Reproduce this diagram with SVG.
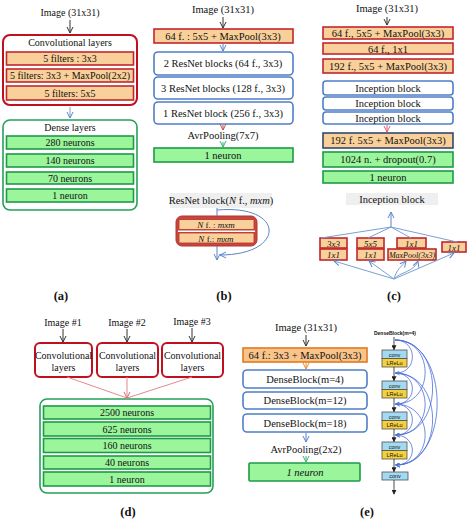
<svg xmlns="http://www.w3.org/2000/svg" width="474" height="531" viewBox="0 0 474 531">
<defs>
<style>
text{font-family:"Liberation Serif","Times New Roman",serif;fill:#111;text-anchor:middle}
.t10{font-size:10px}
.t105{font-size:10.5px}
.it{font-style:italic}
.lab{font-size:12.5px;font-weight:bold}
.or{fill:#FAD09A;stroke:#C1272D;stroke-width:1.6}
.gr{fill:#9BF59B;stroke:#1E9A48;stroke-width:1.6}
.bl{fill:#fff;stroke:#4F7EC8;stroke-width:1.6}
.rbox{fill:#fff;stroke:#C0101E;stroke-width:2}
.gbox{fill:#fff;stroke:#24A05A;stroke-width:1.6}
.gray{fill:#EFEFEF}
.sans{font-family:"Liberation Sans",Arial,sans-serif}
.conv{fill:#A3DAF2;stroke:#505050;stroke-width:0.8}
.lrelu{fill:#F4D03F;stroke:#505050;stroke-width:0.8}
.c{fill:none;stroke-width:1}
</style>
<marker id="ak" viewBox="0 0 8 8" refX="7" refY="4" markerWidth="8" markerHeight="8" markerUnits="userSpaceOnUse" orient="auto"><path d="M1,1 L7,4 L1,7" fill="none" stroke="#333" stroke-width="1"/></marker>
<marker id="ab" viewBox="0 0 8 8" refX="7" refY="4" markerWidth="8" markerHeight="8" markerUnits="userSpaceOnUse" orient="auto"><path d="M1,1 L7,4 L1,7" fill="none" stroke="#5B84C8" stroke-width="1"/></marker>
<marker id="ar" viewBox="0 0 8 8" refX="7" refY="4" markerWidth="8" markerHeight="8" markerUnits="userSpaceOnUse" orient="auto"><path d="M1,1 L7,4 L1,7" fill="none" stroke="#C0504D" stroke-width="1"/></marker>
<marker id="ag" viewBox="0 0 8 8" refX="7" refY="4" markerWidth="8" markerHeight="8" markerUnits="userSpaceOnUse" orient="auto"><path d="M1,1 L7,4 L1,7" fill="none" stroke="#3CB371" stroke-width="1"/></marker>
<marker id="ap" viewBox="0 0 8 8" refX="7" refY="4" markerWidth="8" markerHeight="8" markerUnits="userSpaceOnUse" orient="auto"><path d="M1,1 L7,4 L1,7" fill="none" stroke="#E0607A" stroke-width="1"/></marker>
<marker id="ao" viewBox="0 0 8 8" refX="7" refY="4" markerWidth="8" markerHeight="8" markerUnits="userSpaceOnUse" orient="auto"><path d="M1,1 L7,4 L1,7" fill="none" stroke="#E88A2E" stroke-width="1"/></marker>
<marker id="ad" viewBox="0 0 6 6" refX="5" refY="3" markerWidth="5" markerHeight="5" markerUnits="userSpaceOnUse" orient="auto"><path d="M0,0 L6,3 L0,6 Z" fill="#222"/></marker>
<marker id="as" viewBox="0 0 6 6" refX="5" refY="3" markerWidth="5" markerHeight="5" markerUnits="userSpaceOnUse" orient="auto"><path d="M0.5,0.5 L5.5,3 L0.5,5.5" fill="none" stroke="#4A6FD8" stroke-width="0.8"/></marker>
</defs>
<rect width="474" height="531" fill="#fff"/>

<!-- Panel (a) -->
<g id="a-input"><text class="t10" x="70" y="16">Image (31x31)</text></g>
<g id="a-conv">
<rect class="rbox" x="3" y="35" width="134" height="70" rx="7"/>
<text class="t10" x="70" y="46">Convolutional layers</text>
<rect class="or" x="6.5" y="52" width="127" height="13"/><text class="t10" x="70" y="62">5 filters : 3x3</text>
<rect class="or" x="6.5" y="69" width="127" height="13"/><text class="t10" x="70" y="79" font-size="10.3">5 filters: 3x3 + MaxPool(2x2)</text>
<rect class="or" x="6.5" y="86" width="127" height="14"/><text class="t10" x="70" y="96.5">5 filters: 5x5</text>
</g>
<g id="a-dense">
<rect class="gbox" x="3" y="120" width="134" height="90" rx="7"/>
<text class="t10" x="70" y="131">Dense layers</text>
<rect class="gr" x="6.5" y="136" width="127" height="13"/><text class="t10" x="70" y="146">280 neurons</text>
<rect class="gr" x="6.5" y="154" width="127" height="13"/><text class="t10" x="70" y="164">140 neurons</text>
<rect class="gr" x="6.5" y="172" width="127" height="12"/><text class="t10" x="70" y="181.5">70 neurons</text>
<rect class="gr" x="6.5" y="189" width="127" height="13"/><text class="t10" x="70" y="199">1 neuron</text>
</g>
<g id="a-label"><text class="lab" x="61" y="300">(a)</text></g>

<!-- Panel (b) -->
<g id="b-input"><text class="t105" x="223" y="13">Image (31x31)</text></g>
<g id="b-stem"><rect class="or" x="154" y="29" width="139" height="14"/><text class="t105" x="223" y="40">64 f. : 5x5 + MaxPool(3x3)</text></g>
<g id="b-res1"><rect class="bl" x="154" y="52" width="139" height="23" rx="4"/><text class="t105" x="223" y="67">2 ResNet blocks (64 f., 3x3)</text></g>
<g id="b-res2"><rect class="bl" x="154" y="77" width="139" height="22" rx="4"/><text class="t105" x="223" y="91.5">3 ResNet blocks (128 f., 3x3)</text></g>
<g id="b-res3"><rect class="bl" x="154" y="102" width="139" height="22" rx="4"/><text class="t105" x="223" y="116.5">1 ResNet block (256 f., 3x3)</text></g>
<g id="b-pool"><text class="t105" x="223" y="139">AvrPooling(7x7)</text></g>
<g id="b-out"><rect class="gr" x="154" y="148" width="139" height="14"/><text class="t105" x="223" y="159">1 neuron</text></g>
<g id="b-resblock">
<rect class="gray" x="170" y="193" width="102" height="15"/>
<text class="t105" x="221" y="204">ResNet block(<tspan class="it">N</tspan> f., <tspan class="it">mxm</tspan>)</text>
<rect x="176" y="216" width="81" height="30" rx="6" fill="#C9463F" stroke="#B23530" stroke-width="1"/>
<rect x="179" y="219.5" width="75" height="10" fill="#FAD09A" stroke="#B23530" stroke-width="0.8"/>
<line x1="178" y1="231.3" x2="255" y2="231.3" stroke="#fff" stroke-width="1.4"/>
<rect x="179" y="233" width="75" height="10" fill="#FAD09A" stroke="#B23530" stroke-width="0.8"/>
<text x="216" y="228" font-size="9"><tspan class="it">N</tspan> f. : <tspan class="it">mxm</tspan></text>
<text x="216" y="241.5" font-size="9"><tspan class="it">N</tspan> f.: <tspan class="it">mxm</tspan></text>
</g>
<g id="b-label"><text class="lab" x="224" y="300">(b)</text></g>

<!-- Panel (c) -->
<g id="c-input"><text class="t105" x="387" y="12">Image (31x31)</text></g>
<g id="c-l1"><rect class="or" x="323" y="27" width="130" height="12"/><text class="t105" x="388" y="37">64 f., 5x5 + MaxPool(3x3)</text></g>
<g id="c-l2"><rect class="or" x="323" y="43" width="130" height="11"/><text class="t105" x="388" y="52.5">64 f., 1x1</text></g>
<g id="c-l3"><rect class="or" x="323" y="59" width="130" height="14"/><text class="t105" x="388" y="70">192 f., 5x5 + MaxPool(3x3)</text></g>
<g id="c-inc1"><rect class="bl" x="323" y="81" width="130" height="14" rx="3"/><text class="t105" x="388" y="91.5">Inception block</text></g>
<g id="c-inc2"><rect class="bl" x="323" y="97" width="130" height="13" rx="3"/><text class="t105" x="388" y="107">Inception block</text></g>
<g id="c-inc3"><rect class="bl" x="323" y="112" width="130" height="12" rx="3"/><text class="t105" x="388" y="121.5">Inception block</text></g>
<g id="c-l4"><rect x="323" y="133" width="130" height="15" fill="#FAD09A" stroke="#34486E" stroke-width="1.6"/><text class="t105" x="388" y="144">192 f. 5x5 + MaxPool(3x3)</text></g>
<g id="c-fc"><rect class="gr" x="323" y="152" width="130" height="15"/><text class="t105" x="388" y="163">1024 n. + dropout(0.7)</text></g>
<g id="c-out"><rect class="gr" x="323" y="171" width="130" height="12"/><text class="t105" x="388" y="181">1 neuron</text></g>
<g id="c-incblock">
<rect class="gray" x="346" y="193" width="92" height="12"/>
<text class="t105" x="392" y="203">Inception block</text>
<rect class="or" x="320" y="238" width="27" height="10" stroke-width="1.2"/><text class="it" x="333.5" y="246.5" font-size="9">3x3</text>
<rect class="or" x="320" y="249" width="27" height="11" stroke-width="1.2"/><text class="it" x="333.5" y="258" font-size="9">1x1</text>
<rect class="or" x="357" y="238" width="27" height="10" stroke-width="1.2"/><text class="it" x="370.5" y="246.5" font-size="9">5x5</text>
<rect class="or" x="357" y="249" width="27" height="11" stroke-width="1.2"/><text class="it" x="370.5" y="258" font-size="9">1x1</text>
<rect class="or" x="397" y="238" width="29" height="10" stroke-width="1.2"/><text class="it" x="411.5" y="246.5" font-size="9">1x1</text>
<rect class="or" x="388" y="249" width="48" height="11" stroke-width="1.2"/><text class="it" x="412" y="257.5" font-size="8">MaxPool(3x3)</text>
<rect class="or" x="442" y="242" width="24" height="10" stroke-width="1.2"/><text class="it" x="454" y="250.5" font-size="9">1x1</text>
</g>
<g id="c-label"><text class="lab" x="394" y="300">(c)</text></g>

<!-- Panel (d) -->
<g id="d-in1"><text class="t10" x="63" y="326">Image #1</text></g>
<g id="d-in2"><text class="t10" x="127" y="326">Image #2</text></g>
<g id="d-in3"><text class="t10" x="192" y="325">Image #3</text></g>
<g id="d-conv1"><rect class="rbox" x="35" y="343" width="57" height="34" rx="5"/><text class="t10" x="63.5" y="359">Convolutional</text><text class="t10" x="63.5" y="371">layers</text></g>
<g id="d-conv2"><rect class="rbox" x="97" y="343" width="61" height="34" rx="5"/><text class="t10" x="127.5" y="359">Convolutional</text><text class="t10" x="127.5" y="371">layers</text></g>
<g id="d-conv3"><rect class="rbox" x="162" y="343" width="61" height="34" rx="5"/><text class="t10" x="192.5" y="359">Convolutional</text><text class="t10" x="192.5" y="371">layers</text></g>
<g id="d-dense">
<rect class="gbox" x="40" y="399" width="173" height="94" rx="7"/>
<rect class="gr" x="43.5" y="406" width="167" height="13"/><text class="t10" x="127" y="416">2500 neurons</text>
<rect class="gr" x="43.5" y="422" width="167" height="14"/><text class="t10" x="127" y="432.5">625 neurons</text>
<rect class="gr" x="43.5" y="438.5" width="167" height="14"/><text class="t10" x="127" y="449">160 neurons</text>
<rect class="gr" x="43.5" y="456" width="167" height="13"/><text class="t10" x="127" y="466">40 neurons</text>
<rect class="gr" x="43.5" y="472" width="167" height="14"/><text class="t10" x="127" y="482.5">1 neuron</text>
</g>
<g id="d-label"><text class="lab" x="128" y="516">(d)</text></g>

<!-- Panel (e) -->
<g id="e-input"><text class="t105" x="306" y="331">Image (31x31)</text></g>
<g id="e-stem"><rect x="243" y="348" width="124" height="14" fill="#F9C48A" stroke="#E07B20" stroke-width="1.6"/><text class="t105" x="305" y="359">64 f.: 3x3 + MaxPool(3x3)</text></g>
<g id="e-db1"><rect class="bl" x="243" y="370" width="124" height="18" rx="4"/><text class="t105" x="305" y="382.5">DenseBlock(m=4)</text></g>
<g id="e-db2"><rect class="bl" x="243" y="392" width="124" height="17" rx="4"/><text class="t105" x="305" y="404">DenseBlock(m=12)</text></g>
<g id="e-db3"><rect class="bl" x="243" y="414" width="124" height="18" rx="4"/><text class="t105" x="305" y="426.5">DenseBlock(m=18)</text></g>
<g id="e-pool"><text class="t105" x="306" y="453">AvrPooling(2x2)</text></g>
<g id="e-out"><rect class="gr" x="249" y="463" width="111" height="18" rx="1"/><text class="t105 it" x="305" y="475.5">1 neuron</text></g>
<g id="e-label"><text class="lab" x="367" y="516">(e)</text></g>

<!-- DenseBlock detail -->
<g id="db-detail">
<text class="sans" x="395" y="335" font-size="5" font-weight="bold">DenseBlock(m=4)</text>
<rect class="conv" x="382" y="350" width="25" height="8.5"/><text class="sans" x="394.5" y="356.5" font-size="5.5">conv</text>
<rect class="lrelu" x="382" y="358.5" width="25" height="8.5"/><text class="sans" x="394.5" y="365" font-size="5.5">LReLu</text>
<rect class="conv" x="382" y="381" width="25" height="8.5"/><text class="sans" x="394.5" y="387.5" font-size="5.5">conv</text>
<rect class="lrelu" x="382" y="389.5" width="25" height="8.5"/><text class="sans" x="394.5" y="396" font-size="5.5">LReLu</text>
<rect class="conv" x="382" y="412" width="25" height="8.5"/><text class="sans" x="394.5" y="418.5" font-size="5.5">conv</text>
<rect class="lrelu" x="382" y="420.5" width="25" height="8.5"/><text class="sans" x="394.5" y="427" font-size="5.5">LReLu</text>
<rect class="conv" x="382" y="442" width="25" height="8.5"/><text class="sans" x="394.5" y="448.5" font-size="5.5">conv</text>
<rect class="lrelu" x="382" y="450.5" width="25" height="8.5"/><text class="sans" x="394.5" y="457" font-size="5.5">LReLu</text>
<rect class="conv" x="382" y="472" width="26" height="8"/><text class="sans" x="395" y="478.2" font-size="5.5">conv</text>
</g>

<!-- Connectors -->
<g id="connectors" class="c">
<!-- (a) -->
<line x1="70" y1="20" x2="70" y2="33" stroke="#333" marker-end="url(#ak)"/>
<line x1="70" y1="107" x2="70" y2="118" stroke="#7A9FD4" marker-end="url(#ab)"/>
<!-- (b) -->
<line x1="223" y1="17" x2="223" y2="28" stroke="#333" marker-end="url(#ak)"/>
<line x1="223" y1="44" x2="223" y2="51" stroke="#5B84C8" marker-end="url(#ab)"/>
<line x1="223" y1="125" x2="223" y2="130" stroke="#C0504D" marker-end="url(#ar)"/>
<line x1="223" y1="142" x2="223" y2="147" stroke="#3CB371" marker-end="url(#ag)"/>
<line x1="217" y1="208" x2="217" y2="216" stroke="#5B84C8"/>
<path d="M217,210 C286,204 286,255 220,255" stroke="#5B84C8" marker-end="url(#ab)"/>
<line x1="217" y1="246" x2="217" y2="260" stroke="#5B84C8" marker-end="url(#ab)"/>
<!-- (c) -->
<line x1="387" y1="17" x2="387" y2="25" stroke="#333" marker-end="url(#ak)"/>
<line x1="387" y1="125" x2="387" y2="132" stroke="#E0607A" marker-end="url(#ap)"/>
<line x1="391" y1="227" x2="391" y2="212" stroke="#5B84C8" marker-end="url(#ab)"/>
<path d="M391,227 L321,238 M391,227 L368,238 M391,227 L411,238 M391,227 L457,242" stroke="#7A9FD4"/>
<line x1="394" y1="279" x2="334" y2="261" stroke="#7A9FD4" marker-end="url(#ab)"/>
<line x1="394" y1="279" x2="369" y2="261" stroke="#7A9FD4" marker-end="url(#ab)"/>
<path d="M394,279 C396,270 402,266 406,261" stroke="#7A9FD4" marker-end="url(#ab)"/>
<path d="M394,279 C400,272 414,272 418,261" stroke="#7A9FD4" marker-end="url(#ab)"/>
<line x1="394" y1="279" x2="454" y2="253" stroke="#7A9FD4" marker-end="url(#ab)"/>
<!-- (d) -->
<line x1="63" y1="329" x2="63" y2="342" stroke="#333" marker-end="url(#ak)"/>
<line x1="127" y1="329" x2="127" y2="342" stroke="#333" marker-end="url(#ak)"/>
<line x1="192" y1="328" x2="192" y2="342" stroke="#333" marker-end="url(#ak)"/>
<path d="M67,377 L127,398 M192,377 L127,398" stroke="#E8898A"/>
<line x1="127" y1="377" x2="127" y2="398" stroke="#E8898A" marker-end="url(#ap)"/>
<!-- (e) -->
<line x1="306" y1="335" x2="306" y2="346" stroke="#333" marker-end="url(#ak)"/>
<line x1="306" y1="363" x2="306" y2="369" stroke="#E88A2E" marker-end="url(#ao)"/>
<line x1="306" y1="433" x2="306" y2="442" stroke="#5B84C8" marker-end="url(#ab)"/>
<line x1="306" y1="456" x2="306" y2="462" stroke="#3CB371" marker-end="url(#ag)"/>
<!-- dense detail -->
<g stroke="#222" stroke-width="0.8">
<line x1="394" y1="337" x2="394" y2="349.5" marker-end="url(#ad)"/>
<line x1="394" y1="367" x2="394" y2="380.5" marker-end="url(#ad)"/>
<line x1="394" y1="398" x2="394" y2="411.5" marker-end="url(#ad)"/>
<line x1="394" y1="429" x2="394" y2="441.5" marker-end="url(#ad)"/>
<line x1="394" y1="459" x2="394" y2="471.5" marker-end="url(#ad)"/>
<line x1="394" y1="480" x2="394" y2="494" marker-end="url(#ad)"/>
</g>
<g stroke="#4A6FD8" stroke-width="0.8" marker-end="url(#as)">
<path d="M395,340 C418,340 418,373 396,373"/>
<path d="M395,340 C435,340 435,404 396,404"/>
<path d="M395,340 C445,340 445,435 396,435"/>
<path d="M395,340 C451,340 451,465 396,465"/>
<path d="M395,373 C418,373 418,404 396,404"/>
<path d="M395,373 C435,373 435,435 396,435"/>
<path d="M395,373 C445,373 445,465 396,465"/>
<path d="M395,404 C418,404 418,435 396,435"/>
<path d="M395,404 C435,404 435,465 396,465"/>
<path d="M395,435 C418,435 418,465 396,465"/>
</g>
</g>
</svg>
